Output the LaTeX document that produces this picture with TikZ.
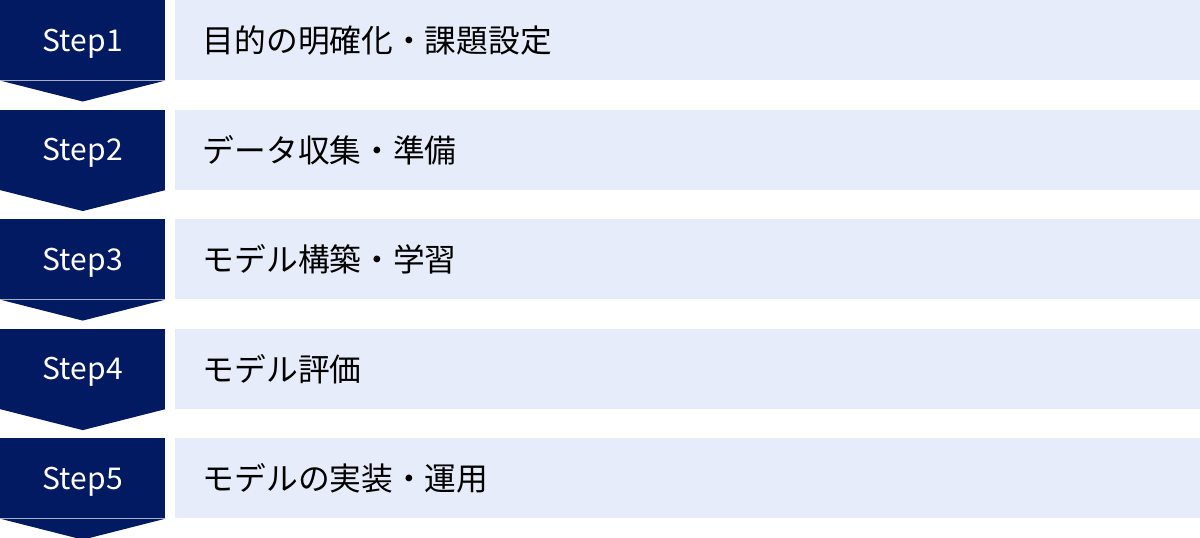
\documentclass[tikz,border=0pt]{standalone}
\usepackage{fontspec}
\newfontfamily\jpfont{Noto Sans CJK JP}
\usetikzlibrary{positioning}
\definecolor{navy}{HTML}{021A62}
\definecolor{paleblue}{HTML}{E6ECF9}
\begin{document}
\begin{tikzpicture}[node distance=21.75pt,
        step node/.style={rectangle,fill=navy,text=white,minimum width=123.75pt,minimum height=60pt,inner sep=0pt,text height=16.5pt,text depth=0pt,font=\jpfont\fontsize{22.5}{27}\selectfont},
        task node/.style={rectangle,fill=paleblue,text=black,minimum width=769.5pt,minimum height=60pt,inner sep=0pt,inner xsep=21pt,text width=727.5pt,align=left,font=\jpfont\fontsize{23.8}{28}\selectfont}]

    \useasboundingbox (0,0) rectangle (900pt,-403.5pt);

    \node[step node,anchor=north west] (s1) at (0,0) {Step1};
    \node[step node] (s2) [below=of s1] {Step2};
    \node[step node] (s3) [below=of s2] {Step3};
    \node[step node] (s4) [below=of s3] {Step4};
    \node[step node] (s5) [below=of s4] {Step5};

    \node[task node] (t1) [right=6.75pt of s1] {目的の明確化・課題設定};
    \node[task node] (t2) [right=6.75pt of s2] {データ収集・準備};
    \node[task node] (t3) [right=6.75pt of s3] {モデル構築・学習};
    \node[task node] (t4) [right=6.75pt of s4] {モデル評価};
    \node[task node] (t5) [right=6.75pt of s5] {モデルの実装・運用};

    % arrow points under each step
    \fill[navy] (s1.south west) -- (s1.south east) -- ([yshift=-15.75pt]s1.south) -- cycle;
    \fill[navy] (s2.south west) -- (s2.south east) -- ([yshift=-15.75pt]s2.south) -- cycle;
    \fill[navy] (s3.south west) -- (s3.south east) -- ([yshift=-15.75pt]s3.south) -- cycle;
    \fill[navy] (s4.south west) -- (s4.south east) -- ([yshift=-15.75pt]s4.south) -- cycle;
    \fill[navy] (s5.south west) -- (s5.south east) -- ([yshift=-15.75pt]s5.south) -- cycle;
\end{tikzpicture}
\end{document}
